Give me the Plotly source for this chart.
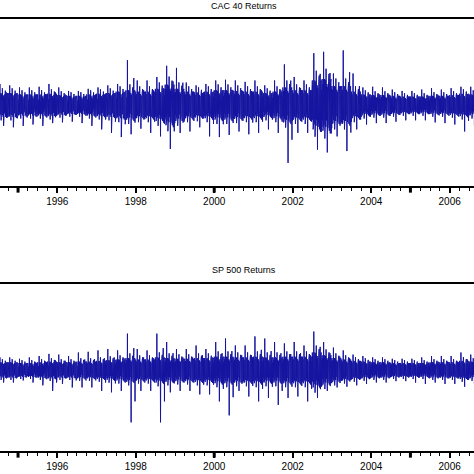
import plotly.graph_objects as go

# quarterly readings (% daily return), first quarter starts mid-1994
start_year = 1994.5
cac_up = [3.0, 2.8,
          2.5, 2.5, 2.6, 3.0,   # 1995
          2.5, 2.0, 2.0, 2.3,   # 1996
          2.5, 2.8, 3.0, 6.4,   # 1997
          3.5, 3.5, 4.0, 5.6,   # 1998
          5.3, 3.2, 2.8, 3.0,   # 1999
          3.5, 3.6, 3.5, 3.3,   # 2000
          3.5, 2.8, 3.5, 5.8,   # 2001
          4.0, 3.5, 7.4, 7.6,   # 2002
          4.5, 7.8, 4.5, 2.5,   # 2003
          2.6, 2.5, 2.2, 2.0,   # 2004
          2.0, 2.2, 2.4, 2.2,   # 2005
          2.4, 2.6, 2.6]        # 2006
cac_down = [3.0, 3.2,
            3.0, 2.8, 3.0, 2.6,
            2.5, 2.4, 2.6, 3.0,
            3.5, 4.0, 4.6, 4.2,
            3.4, 4.0, 4.5, 6.3,
            4.0, 3.8, 3.2, 4.5,
            4.6, 4.3, 3.8, 4.2,
            4.0, 3.5, 4.0, 8.3,
            4.0, 4.0, 6.4, 6.8,
            4.5, 6.6, 3.5, 2.8,
            2.6, 2.6, 2.4, 2.2,
            2.2, 2.2, 2.5, 2.6,
            2.8, 3.8, 3.0]
cac_band = [1.7, 1.7,
            1.5, 1.5, 1.5, 1.6,
            1.4, 1.3, 1.3, 1.5,
            1.6, 1.7, 1.9, 2.1,
            1.9, 1.9, 2.3, 2.9,
            2.3, 1.9, 1.8, 1.9,
            2.1, 2.1, 2.0, 1.9,
            1.9, 1.7, 1.9, 2.5,
            2.1, 2.1, 3.5, 3.7,
            2.7, 2.7, 1.9, 1.5,
            1.4, 1.4, 1.3, 1.2,
            1.2, 1.2, 1.3, 1.3,
            1.4, 1.6, 1.5]

sp_up = [1.8, 1.8,
         1.6, 1.8, 2.0, 2.3,
         2.2, 2.0, 2.5, 2.6,
         2.8, 3.0, 2.8, 5.2,
         3.0, 2.8, 5.2, 4.0,
         3.0, 3.0, 3.5, 3.0,
         4.0, 4.5, 3.5, 3.5,
         4.8, 4.5, 4.0, 3.8,
         4.0, 3.5, 5.5, 4.0,
         3.2, 2.8, 2.2, 2.0,
         1.8, 1.8, 1.6, 1.6,
         1.6, 1.8, 2.0, 2.0,
         2.0, 2.5, 2.2]
sp_down = [1.8, 1.8,
           1.5, 1.8, 2.2, 3.0,
           2.0, 2.5, 2.5, 2.5,
           3.0, 3.2, 3.0, 7.5,
           3.0, 3.0, 7.5, 3.2,
           3.0, 3.0, 3.5, 3.5,
           4.5, 6.5, 3.0, 3.8,
           4.5, 4.0, 5.0, 4.0,
           3.8, 4.5, 4.0, 3.0,
           2.5, 2.4, 2.2, 2.0,
           1.8, 1.8, 1.6, 1.6,
           1.8, 2.0, 1.8, 2.0,
           2.0, 2.4, 2.0]
sp_band = [1.1, 1.1,
           1.0, 1.0, 1.1, 1.2,
           1.1, 1.1, 1.2, 1.2,
           1.3, 1.4, 1.5, 1.7,
           1.5, 1.5, 1.8, 1.7,
           1.6, 1.6, 1.7, 1.7,
           1.9, 1.9, 1.8, 1.8,
           1.9, 1.8, 1.8, 1.9,
           1.9, 1.9, 2.5, 2.1,
           1.7, 1.5, 1.3, 1.2,
           1.1, 1.1, 1.0, 1.0,
           1.0, 1.0, 1.1, 1.1,
           1.1, 1.3, 1.2]

tick_years = [1996, 1998, 2000, 2002, 2004, 2006]
big_ticks = [1995, 2000, 2005]

# zigzag pattern used to spread each quarter's band into daily-looking swings
shape = [1, -0.6, 0.8, -1, 0.5, -0.9, 'U', -0.8, 0.9, -0.5, 1, -1.3, 0.4,
         -0.7, 0.95, -0.85, 1.4, -0.6, 0.7, -1, 0.8, 'D', 0.7, -0.9, 0.6,
         -0.7, 0.9, -0.4, 1.2, -1, 0.5, -0.8, 'u', -1.1, 0.85, -0.55, 1,
         'd', 0.6, -0.9]


def build(up, down, band):
    xs, ys = [], []
    for i in range(len(band)):
        q0 = start_year + 0.25 * i
        for j, m in enumerate(shape):
            xs.append(q0 + 0.25 * j / len(shape))
            if m == 'U':
                ys.append(up[i])
            elif m == 'D':
                ys.append(-down[i])
            elif m == 'u':
                ys.append(0.6 * up[i])
            elif m == 'd':
                ys.append(-0.6 * down[i])
            else:
                ys.append(m * band[i])
    return xs, ys


blue = '#1414a0'
fig = go.Figure()
x1, y1 = build(cac_up, cac_down, cac_band)
x2, y2 = build(sp_up, sp_down, sp_band)
fig.add_trace(go.Scatter(x=x1, y=y1, mode='lines', line=dict(color=blue, width=1),
                         xaxis='x', yaxis='y', showlegend=False))
fig.add_trace(go.Scatter(x=x2, y=y2, mode='lines', line=dict(color=blue, width=1),
                         xaxis='x2', yaxis='y2', showlegend=False))

xrange = [1994.54, 2006.62]
xcommon = dict(range=xrange, showgrid=False, zeroline=False, showline=True,
               linecolor='black', linewidth=1.5, mirror=True, ticks='outside',
               ticklen=5, tickwidth=1.5, tickcolor='black',
               tickvals=tick_years, ticktext=[str(y) for y in tick_years],
               minor=dict(dtick=0.25, tick0=1995, ticks='outside', ticklen=3,
                          tickcolor='black', tickwidth=1),
               tickfont=dict(family='Liberation Sans', size=10, color='black'),
               automargin=False)
ycommon = dict(range=[-11.6, 12.3], visible=False, showgrid=False, zeroline=False)

fig.update_layout(
    width=474, height=474, margin=dict(l=0, r=0, t=0, b=0),
    plot_bgcolor='white', paper_bgcolor='white',
    xaxis=dict(domain=[0, 1], anchor='y', **xcommon),
    yaxis=dict(domain=[0.6076, 0.96], anchor='x', **ycommon),
    xaxis2=dict(domain=[0, 1], anchor='y2', **xcommon),
    yaxis2=dict(domain=[0.0485, 0.4008], anchor='x2', **ycommon),
    annotations=[
        dict(text='CAC 40 Returns', x=0.515, y=1.003, xref='paper', yref='paper',
             xanchor='center', yanchor='top', showarrow=False,
             font=dict(family='Liberation Sans', size=9, color='black')),
        dict(text='SP 500 Returns', x=0.515, y=0.431, xref='paper', yref='paper',
             xanchor='center', yanchor='middle', showarrow=False,
             font=dict(family='Liberation Sans', size=9, color='black')),
    ],
)

# heavier ticks at 1995, 2000, 2005
shapes = []
for yr in big_ticks:
    for xr, dom in (('x', 0.6076), ('x2', 0.0485)):
        shapes.append(dict(type='line', xref=xr, yref='paper', x0=yr, x1=yr,
                           y0=dom, y1=dom - 0.014, line=dict(color='black', width=3)))
fig.update_layout(shapes=shapes)

# drop the browser's default page margin so the figure fills the window
fig.write_html("out.html", config={'displayModeBar': False},
               post_script="document.body.style.margin='0';")
